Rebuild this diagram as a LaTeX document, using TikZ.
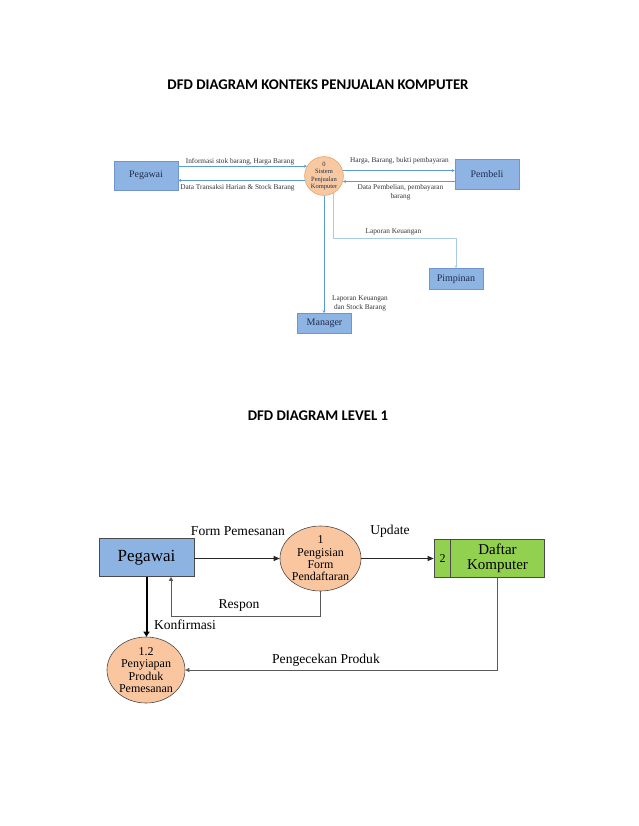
\documentclass[tikz,border=0pt]{standalone}
\usepackage{fontspec}
\setmainfont{Liberation Serif}
\newfontfamily\titlefont{Carlito}
\usetikzlibrary{arrows.meta,shapes.geometric,calc}
\definecolor{cbfill}{HTML}{8EB4E3}
\definecolor{cbdraw}{HTML}{6F95CC}
\definecolor{cbtext}{HTML}{1F2D4D}
\definecolor{cline}{HTML}{5B9BD5}
\definecolor{cline2}{HTML}{A9CBE8}
\definecolor{csfill}{HTML}{F8C9A0}
\definecolor{csdraw}{HTML}{E3A56F}
\definecolor{lbfill}{HTML}{8DB3E2}
\definecolor{pfill}{HTML}{F9C6A0}
\definecolor{gfill}{HTML}{92D050}
\definecolor{ldraw}{HTML}{4A4A4A}
\begin{document}
\begin{tikzpicture}[x=1pt,y=-1pt,
  ttl/.style={font=\titlefont\bfseries\fontsize{14.8}{16}\selectfont},
  cbox/.style={rectangle,fill=cbfill,draw=cbdraw,line width=0.6pt,inner sep=0pt,text=cbtext,font=\fontsize{10}{11}\selectfont},
  csys/.style={circle,fill=csfill,draw=csdraw,line width=0.6pt,inner sep=0pt,minimum size=36pt,align=center,text=cbtext,font=\fontsize{6.5}{7.6}\selectfont},
  clab/.style={inner sep=0pt,align=center,text=black!80,font=\fontsize{7.3}{9}\selectfont},
  carr/.style={draw=cline,line width=0.8pt,-{Stealth[length=3pt,width=3pt]}},
  carr2/.style={draw=cline2,line width=0.8pt,-{Stealth[length=3pt,width=3pt]}},
  lbox/.style={rectangle,draw=ldraw,line width=0.6pt,inner sep=0pt,align=center},
  proc/.style={ellipse,fill=pfill,draw=ldraw,line width=0.6pt,inner sep=0pt,align=center,font=\fontsize{12}{12.3}\selectfont},
  llab/.style={inner sep=0pt,font=\fontsize{13.6}{15}\selectfont},
  larr/.style={draw=black!85,line width=1pt,-{Triangle[length=6pt,width=5pt]}},
  garr/.style={draw=black!65,line width=0.7pt,-{Triangle[length=4pt,width=4pt]}},
  karr/.style={draw=black,line width=2pt,-{Triangle[length=5pt,width=6pt]}}]
\useasboundingbox (0,0) rectangle (638,826);
% ---------- context diagram ----------
\node[ttl] (t1) at (318,85) {DFD DIAGRAM KONTEKS PENJUALAN KOMPUTER};
\node[cbox,minimum width=64pt,minimum height=29pt] (peg) at (146,175.5) {Pegawai};
\node[csys] (sys) at (324,176) {0\\Sistem\\Penjualan\\Komputer};
\node[cbox,minimum width=64pt,minimum height=30pt] (pemb) at (487,174) {Pembeli};
\node[cbox,minimum width=54pt,minimum height=21pt] (pimp) at (456,279) {Pimpinan};
\node[cbox,minimum width=54pt,minimum height=20pt] (man) at (324.5,323.5) {Manager};
\coordinate (lkc) at (456,238);
\draw[carr] (peg.east |- sys.150) -- (sys.150);
\draw[carr] (sys.193) -- (peg.east |- sys.193);
\draw[carr] (sys.16) -- (pemb.west |- sys.16);
\draw[carr] (pemb.west |- sys.-16) -- (sys.-16);
\draw[carr] (sys.south) -- (sys.south |- man.north);
\draw[carr2] (sys.-60) |- (lkc) -- (pimp.north);
\node[clab] (l1) at (240,162) {Informasi stok barang, Harga Barang};
\node[clab] (l2) at (237.5,188) {Data Transaksi Harian \& Stock Barang};
\node[clab] (l3) at (399.5,161) {Harga, Barang, bukti pembayaran};
\node[clab] (l4) at (400.5,192.5) {Data Pembelian, pembayaran\\barang};
\node[clab] (l5) at (393.5,232) {Laporan Keuangan};
\node[clab] (l6) at (360,303) {Laporan Keuangan\\dan Stock Barang};
% ---------- level 1 ----------
\node[ttl] (t2) at (318,416) {DFD DIAGRAM LEVEL 1};
\node[lbox,fill=lbfill,minimum width=95pt,minimum height=38pt,font=\fontsize{17}{18}\selectfont] (peg2) at (146.5,557.5) {Pegawai};
\node[proc,minimum width=77pt,minimum height=65pt] (p1) at (320.5,558.5) {1\\Pengisian\\Form\\Pendaftaran};
\node[lbox,fill=gfill,minimum width=110pt,minimum height=38pt] (dk) at (489,558) {};
\draw[draw=ldraw,line width=0.6pt] ([xshift=17pt]dk.north west) -- ([xshift=17pt]dk.south west);
\node[inner sep=0pt,font=\fontsize{12}{12}\selectfont] (dk2) at (442.5,559) {2};
\node[inner sep=0pt,align=center,font=\fontsize{15}{15}\selectfont] (dkt) at (497.5,558) {Daftar\\Komputer};
\node[proc,minimum width=78pt,minimum height=66pt] (p12) at (146,670) {1.2\\Penyiapan\\Produk\\Pemesanan};
\coordinate (rc) at (171,616);
\draw[larr] (peg2.east |- p1.west) -- (p1.west);
\draw[larr] (p1.east) -- (p1.east -| dk.west);
\draw[garr] (p1.south) |- (rc) -- (rc |- peg2.south);
\draw[karr] (peg2.south) -- (peg2.south |- p12.north);
\draw[garr] ([xshift=8pt]dk.south) |- (p12.east);
\node[llab] (f1) at (238,531) {Form Pemesanan};
\node[llab] (f2) at (390,531) {Update};
\node[llab] (f3) at (239,605) {Respon};
\node[llab] (f4) at (185,625) {Konfirmasi};
\node[llab] (f5) at (326,660) {Pengecekan Produk};
\end{tikzpicture}
\end{document}
